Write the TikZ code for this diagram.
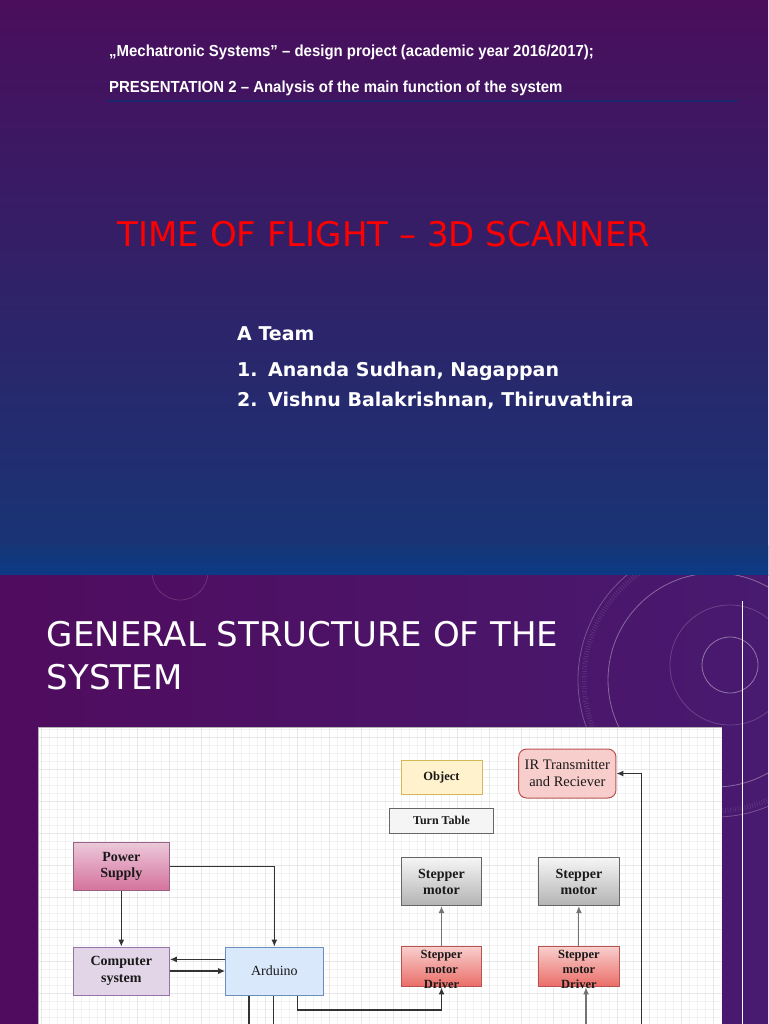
\documentclass[tikz,border=0pt]{standalone}
\usepackage{fontspec}
\setmainfont{Liberation Serif}
\newfontfamily\headfont[FakeStretch=0.935]{Liberation Sans}
\newfontfamily\slidefont{DejaVu Sans}
\usetikzlibrary{positioning,arrows.meta}
\definecolor{slideA}{RGB}{74,14,92}
\definecolor{slideB}{RGB}{48,30,106}
\definecolor{slideC}{RGB}{22,54,118}
\definecolor{slideL}{RGB}{80,12,94}
\definecolor{slideR}{RGB}{72,26,112}
\definecolor{rulecol}{RGB}{26,40,112}
\definecolor{pwrtop}{RGB}{236,200,218}
\definecolor{pwrbot}{RGB}{213,115,157}
\definecolor{pwrline}{RGB}{153,97,133}
\definecolor{compfill}{RGB}{225,213,231}
\definecolor{compline}{RGB}{150,115,166}
\definecolor{ardfill}{RGB}{218,232,252}
\definecolor{ardline}{RGB}{108,142,191}
\definecolor{objfill}{RGB}{255,242,204}
\definecolor{objline}{RGB}{214,182,86}
\definecolor{ttfill}{RGB}{245,245,245}
\definecolor{greyline}{RGB}{102,102,102}
\definecolor{motbot}{RGB}{179,179,179}
\definecolor{redfill}{RGB}{248,206,204}
\definecolor{redbot}{RGB}{234,107,102}
\definecolor{redline}{RGB}{184,84,80}

\begin{document}
\begin{tikzpicture}[x=1pt,y=-1pt,
    slidetext/.style={anchor=base west, inner sep=0pt, text=white},
    hdrtext/.style={slidetext, font=\headfont\fontsize{16}{19}\selectfont\bfseries},
    teamtext/.style={slidetext, font=\slidefont\fontsize{19}{22}\selectfont\bfseries},
    box/.style={rectangle, draw, line width=1pt, align=center,
        inner sep=0pt, text=black!90},
    boldbox/.style={box, font=\fontsize{14}{16.5}\selectfont\bfseries},
    drvbox/.style={box, minimum width=80.4pt, minimum height=40pt,
        top color=redfill, bottom color=redbot, draw=redline},
    drvtext/.style={align=center, inner sep=0pt, text=black!90,
        font=\fontsize{12.5}{15}\selectfont\bfseries},
    motor/.style={boldbox, minimum width=80.4pt, minimum height=47.7pt,
        top color=ttfill, bottom color=motbot, draw=greyline},
    conn/.style={-{Latex[length=7pt,width=6pt]}, line width=1.2pt, draw=black!80},
    lconn/.style={-{Latex[length=7pt,width=6pt]}, line width=1.1pt, draw=black!55},
    wire/.style={line width=1.2pt, draw=black!80},
    deco/.style={draw=white, line width=0.8pt}
]
\useasboundingbox (0,0) rectangle (768,1024);

% first slide
\shade[top color=slideA, middle color=slideB, bottom color=slideC] (0,0) rectangle (768,575);
\shade[top color=slideC, bottom color={rgb,255:red,12;green,58;blue,134}] (0,545) rectangle (768,575);
\node[hdrtext] (hdr1) at (109,56.7) {„Mechatronic Systems” – design project (academic year 2016/2017);};
\node[hdrtext] (hdr2) at (109,92.3) {PRESENTATION 2 – Analysis of the main function of the system};
\draw[rulecol, line width=1.2pt] (107,101) -- (738,101);

\node[slidetext, text=red, font=\slidefont\fontsize{34}{40}\selectfont] (title)
    at (117.6,246) {TIME OF FLIGHT – 3D SCANNER};

\node[teamtext] (team) at (237,340.7) {A Team};
\node[teamtext] (num1) at (237,376.7) {1.};
\node[teamtext] (name1) at (268,376.7) {Ananda Sudhan, Nagappan};
\node[teamtext] (num2) at (237,406.7) {2.};
\node[teamtext] (name2) at (268,406.7) {Vishnu Balakrishnan, Thiruvathira};

% second slide
\shade[left color=slideL, right color=slideR] (0,575) rectangle (768,1024);
\begin{scope}
    \clip (0,575) rectangle (768,1024);
    \draw[deco, opacity=0.35] (715,680) circle (107);
    \draw[deco, opacity=0.15, line width=5pt, dash pattern=on 0.5pt off 2pt] (715,680) circle (131);
    \draw[deco, opacity=0.25] (715,680) circle (137);
    \draw[deco, opacity=0.18] (730,665) circle (60);
    \draw[deco, opacity=0.4] (730,665) circle (28);
    \draw[deco, opacity=0.15] (180,572) circle (28);
\end{scope}
\draw[white, line width=1.5pt] (742.3,601) -- (742.3,1024);

\node[slidetext, font=\slidefont\fontsize{34}{42}\selectfont] (head1)
    at (46.7,646.7) {GENERAL STRUCTURE OF THE};
\node[slidetext, font=\slidefont\fontsize{34}{42}\selectfont] (head2)
    at (46.7,689) {SYSTEM};

% drawing panel with grid
\fill[white] (38.3,727.7) rectangle (721.7,1030);
\begin{scope}
    \clip (38.3,727.7) rectangle (721.7,1024);
    \begin{scope}[shift={(9.3,1.3)}]
        \draw[black!5, line width=0.5pt, step=8pt] (0,720) grid (720,1040);
        \draw[black!9, line width=0.6pt, step=32pt] (0,720) grid (720,1040);
    \end{scope}
\end{scope}
\draw[black!30, line width=0.8pt] (38.3,1024) -- (38.3,727.7) -- (721.7,727.7);

% blocks
\node[boldbox, minimum width=96pt, minimum height=47.7pt,
    top color=pwrtop, bottom color=pwrbot, draw=pwrline] (power) at (121.3,866.2) {Power\\Supply};
\node[boldbox, minimum width=96pt, minimum height=48pt,
    fill=compfill, draw=compline, below=56pt of power] (comp) {Computer\\system};
\node[box, minimum width=97.3pt, minimum height=48pt, fill=ardfill, draw=ardline,
    font=\fontsize{14}{16.5}\selectfont, right=55.4pt of comp] (ard) {Arduino};

\node[motor] (mot1) at (441.5,881.8) {Stepper\\motor};
\node[motor, right=56pt of mot1] (mot2) {Stepper\\motor};
\node[box, minimum width=104.4pt, minimum height=25pt, fill=ttfill, draw=greyline,
    font=\fontsize{12}{14}\selectfont\bfseries, above=23.7pt of mot1] (turn) {Turn Table};
\node[box, minimum width=81pt, minimum height=34.4pt, fill=objfill, draw=objline,
    font=\fontsize{12.5}{14}\selectfont\bfseries, above=12.6pt of turn] (obj) {Object};
\node[box, rounded corners=8pt, minimum width=97.3pt, minimum height=49pt,
    fill=redfill, draw=redline, font=\fontsize{14.5}{16.7}\selectfont] (ir)
    at (567.3,773.5) {IR Transmitter\\and Reciever};

\node[drvbox, below=40.3pt of mot1] (drv1) {};
\node[drvtext] (drv1txt) at ([yshift=-2pt]drv1.center) {Stepper\\motor\\Driver};
\node[drvbox, below=40.3pt of mot2] (drv2) {};
\node[drvtext] (drv2txt) at ([yshift=-2pt]drv2.center) {Stepper\\motor\\Driver};

% connectors
\coordinate (out1) at (249,1024);
\coordinate (out2) at (273.3,1024);
\coordinate (bend) at (297.3,1010);
\coordinate (in2) at (586,1024);
\coordinate (irin) at (641.7,1024);

\draw[conn] (power.east) -| (ard.north);
\draw[conn] (power.south) -- (comp.north);
\draw[conn] ([yshift=11.7pt]ard.west) -- ([yshift=11.7pt]comp.east);
\draw[conn] (comp.east) -- (ard.west);
\draw[wire] (ard.south -| out1) -- (out1);
\draw[wire] (ard.south -| out2) -- (out2);
\draw[conn] (ard.south -| bend) -- (bend) -| (drv1.south);
\draw[lconn] (drv1.north) -- (mot1.south);
\draw[lconn] (drv2.north) -- (mot2.south);
\draw[lconn] (in2) -- (in2 |- drv2.south);
\draw[conn] (irin) |- (ir.east);

\end{tikzpicture}
\end{document}
